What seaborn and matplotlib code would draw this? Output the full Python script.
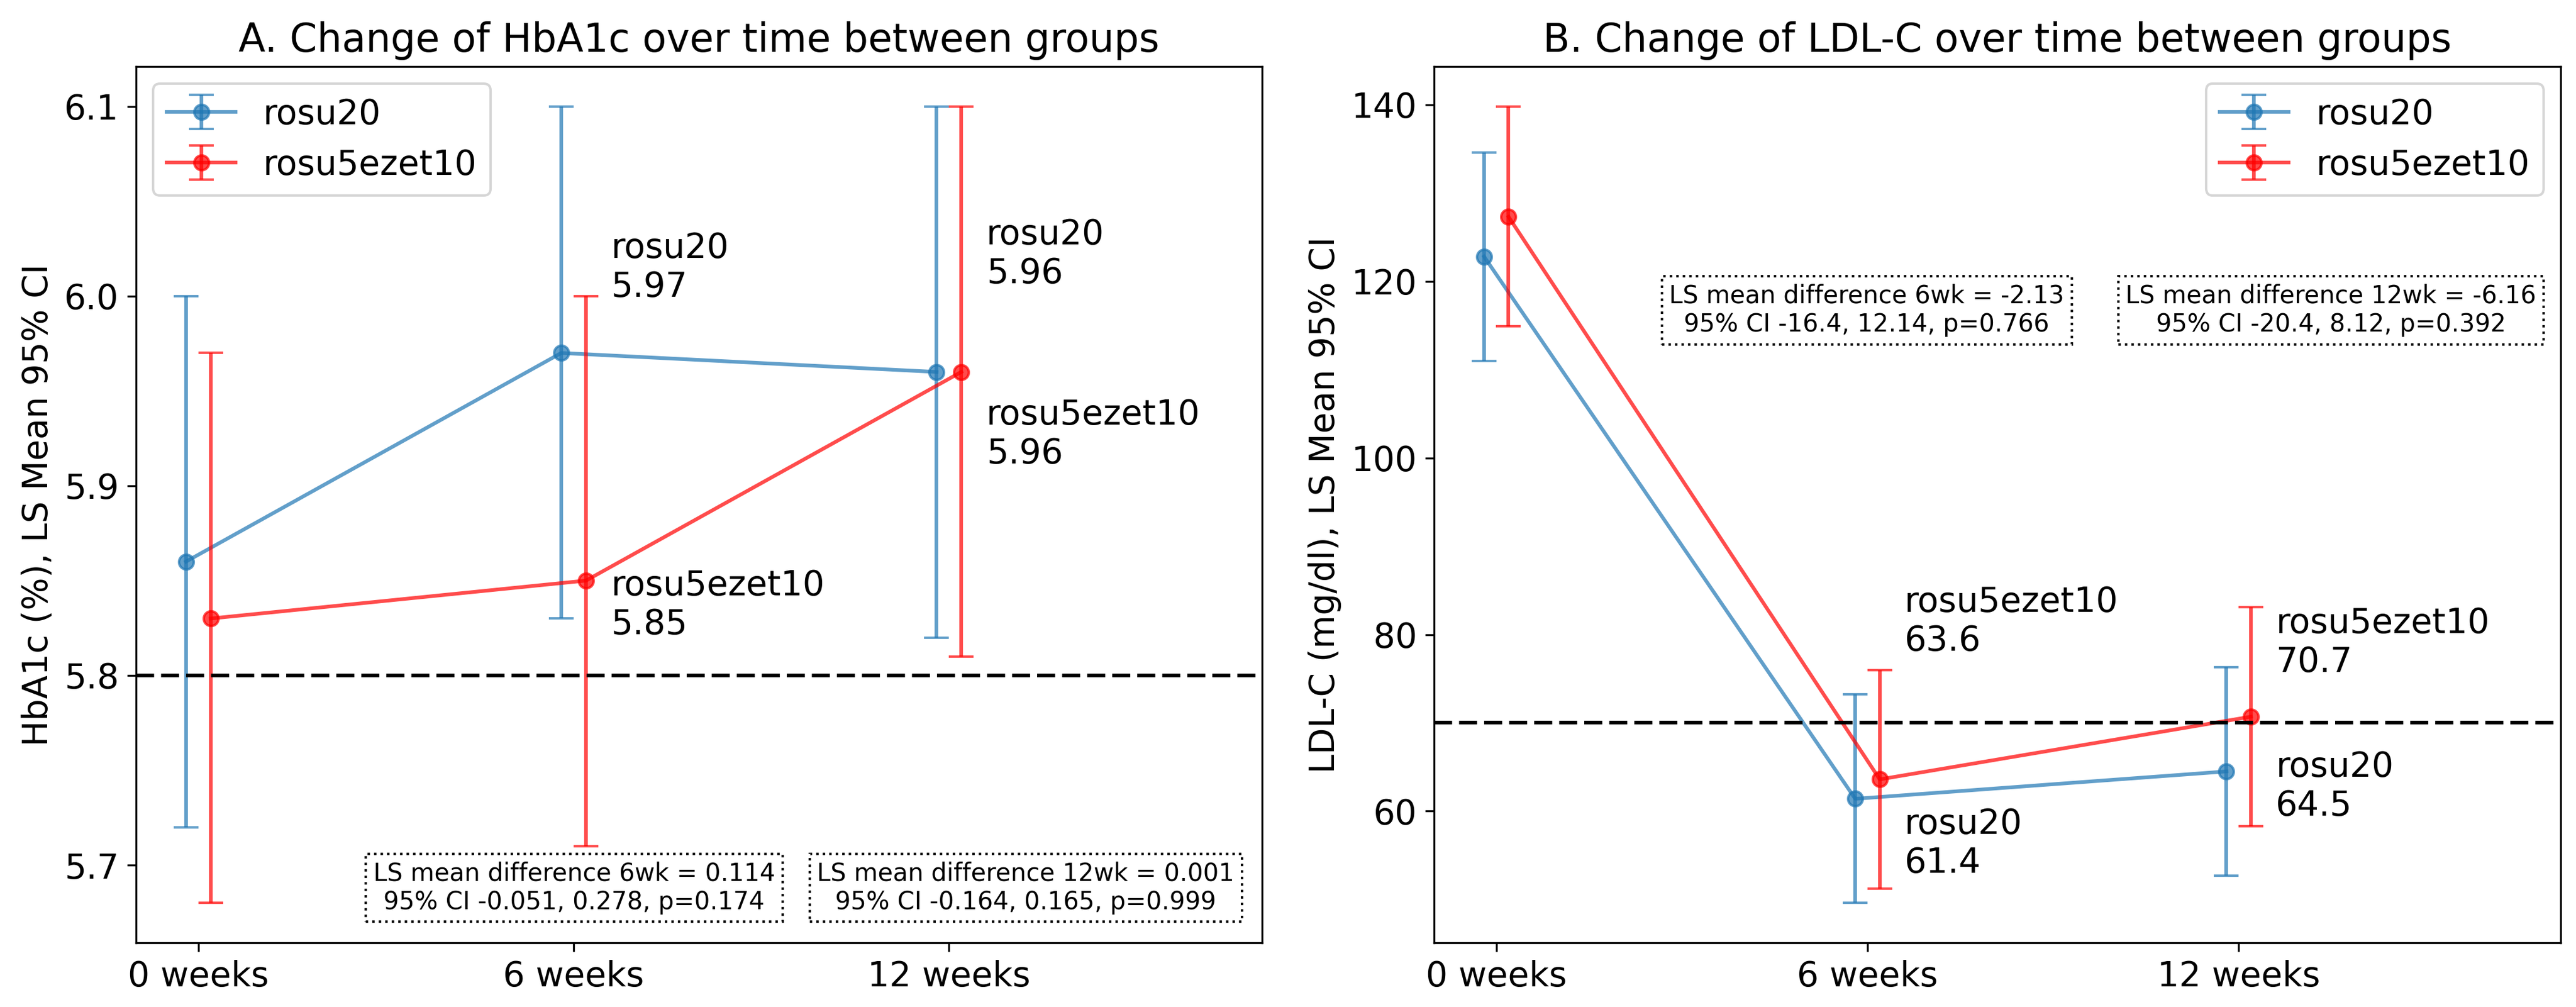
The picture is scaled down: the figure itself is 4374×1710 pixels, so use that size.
import pandas as pd
import seaborn as sns
import matplotlib.pyplot as plt

# 1. Datos
weeks = ["0 weeks", "6 weeks", "12 weeks"]
groups = ["rosu20", "rosu5ezet10"]

hba1c_rosu20 = [5.86, 5.97, 5.96]
hba1c_rosu20_lo = [5.72, 5.83, 5.82]
hba1c_rosu20_hi = [6.00, 6.10, 6.10]
hba1c_combo = [5.83, 5.85, 5.96]
hba1c_combo_lo = [5.68, 5.71, 5.81]
hba1c_combo_hi = [5.97, 6.00, 6.10]

ldl_rosu20 = [122.8, 61.4, 64.5]
ldl_rosu20_lo = [111.0, 49.6, 52.7]
ldl_rosu20_hi = [134.6, 73.2, 76.3]
ldl_combo = [127.3, 63.6, 70.7]
ldl_combo_lo = [114.9, 51.2, 58.3]
ldl_combo_hi = [139.8, 76.0, 83.1]

hba1c_diff = ["LS mean difference 6wk = 0.114\n95% CI -0.051, 0.278, p=0.174",
              "LS mean difference 12wk = 0.001\n95% CI -0.164, 0.165, p=0.999"]
ldl_diff = ["LS mean difference 6wk = -2.13\n95% CI -16.4, 12.14, p=0.766",
            "LS mean difference 12wk = -6.16\n95% CI -20.4, 8.12, p=0.392"]

colors = {"rosu20": "#1f77b4", "rosu5ezet10": "red"}
shift = {"rosu20": -0.033, "rosu5ezet10": 0.033}


def make_df(m1, lo1, hi1, m2, lo2, hi2):
    rows = []
    for g, m, lo, hi in [(groups[0], m1, lo1, hi1), (groups[1], m2, lo2, hi2)]:
        for i, w in enumerate(weeks):
            rows.append({"group": g, "week": w, "idx": i, "mean": m[i], "lo": lo[i], "hi": hi[i]})
    return pd.DataFrame(rows)


df_a = make_df(hba1c_rosu20, hba1c_rosu20_lo, hba1c_rosu20_hi,
               hba1c_combo, hba1c_combo_lo, hba1c_combo_hi)
df_b = make_df(ldl_rosu20, ldl_rosu20_lo, ldl_rosu20_hi,
               ldl_combo, ldl_combo_lo, ldl_combo_hi)


def draw(ax, df, label_off, fmt):
    handles = []
    for g in groups:
        sub = df[df["group"] == g].copy()
        sub["pos"] = sub["idx"] + shift[g]
        c = colors[g]
        sns.lineplot(data=sub, x="pos", y="mean", color=c, marker="o", markersize=6,
                     markeredgecolor=c, markeredgewidth=1, linewidth=1.5, alpha=0.7,
                     errorbar=None, legend=False, ax=ax)
        line = ax.lines[-1]
        eb = ax.errorbar(sub["pos"], sub["mean"],
                         yerr=[sub["mean"] - sub["lo"], sub["hi"] - sub["mean"]],
                         fmt="none", ecolor=c, elinewidth=1.5, capsize=5, alpha=0.7)
        handles.append((line, eb))
        # etiquetas de valores en 6 y 12 semanas
        for _, r in sub[sub["idx"] > 0].iterrows():
            ax.text(r["idx"] + 0.1, r["mean"] + label_off[(g, r["idx"])],
                    f"{g}\n{r['mean']:{fmt}}", fontsize=14, ha="left", va="center")
    return handles


box = dict(boxstyle="square,pad=0.3", facecolor="white", edgecolor="black", linestyle=":")

fig, axes = plt.subplots(1, 2, figsize=(14.583, 5.7))
plt.subplots_adjust(left=0.0528, right=0.9938, bottom=0.0637, top=0.9339, wspace=0.1527)

# Panel A
ax = axes[0]
off_a = {("rosu20", 1): 0.045, ("rosu20", 2): 0.062,
         ("rosu5ezet10", 1): -0.013, ("rosu5ezet10", 2): -0.033}
h = draw(ax, df_a, off_a, ".2f")
ax.axhline(5.8, color="black", linestyle="--", linewidth=1.5, dashes=(4.9, 1.9))
ax.set_xlim(-0.166, 2.835)
ax.set_xticks(range(len(weeks)))
ax.set_xticklabels(weeks)
ax.set_yticks([5.7, 5.8, 5.9, 6.0, 6.1])
ax.tick_params(labelsize=14)
ax.set_xlabel("")
ax.set_ylabel("HbA1c (%), LS Mean 95% CI", fontsize=14)
ax.set_title("A. Change of HbA1c over time between groups", fontsize=16)
ax.legend(h, groups, loc="upper left", fontsize=14)
ax.text(0.389, 0.063, hba1c_diff[0], transform=ax.transAxes, ha="center", va="center",
        fontsize=10, multialignment="center", bbox=box)
ax.text(0.790, 0.063, hba1c_diff[1], transform=ax.transAxes, ha="center", va="center",
        fontsize=10, multialignment="center", bbox=box)

# Panel B
ax = axes[1]
off_b = {("rosu20", 1): -5.1, ("rosu20", 2): -1.7,
         ("rosu5ezet10", 1): 17.9, ("rosu5ezet10", 2): 8.4}
h = draw(ax, df_b, off_b, ".1f")
ax.axhline(70, color="black", linestyle="--", linewidth=1.5, dashes=(4.9, 1.9))
ax.set_xlim(-0.167, 2.867)
ax.set_xticks(range(len(weeks)))
ax.set_xticklabels(weeks)
ax.set_yticks([60, 80, 100, 120, 140])
ax.tick_params(labelsize=14)
ax.set_xlabel("")
ax.set_ylabel("LDL-C (mg/dl), LS Mean 95% CI", fontsize=14)
ax.set_title("B. Change of LDL-C over time between groups", fontsize=16)
ax.legend(h, groups, loc="upper right", fontsize=14)
ax.text(0.384, 0.722, ldl_diff[0], transform=ax.transAxes, ha="center", va="center",
        fontsize=10, multialignment="center", bbox=box)
ax.text(0.796, 0.722, ldl_diff[1], transform=ax.transAxes, ha="center", va="center",
        fontsize=10, multialignment="center", bbox=box)

plt.savefig("out.png", dpi=300)
